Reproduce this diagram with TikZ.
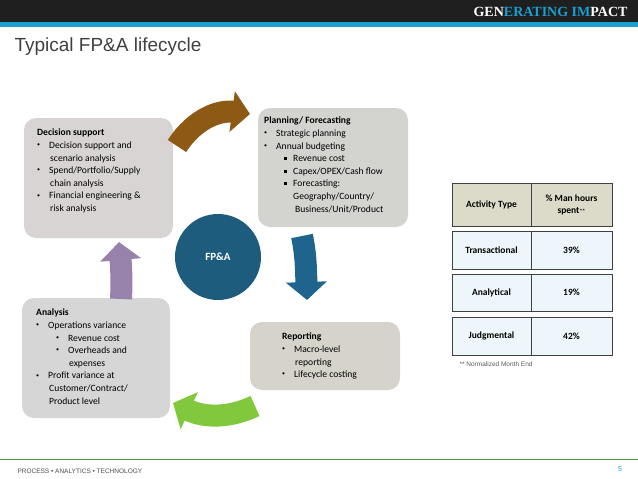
\documentclass[tikz,border=0pt]{standalone}
\usepackage{fontspec}
\setmainfont{Carlito}
\newfontfamily\arialf{Liberation Sans}
\newfontfamily\serifb{Liberation Serif}
\usetikzlibrary{arrows.meta}
\definecolor{hdrblue}{HTML}{1A9FD0}
\definecolor{fpa}{HTML}{1D5C7C}
\definecolor{boxA}{HTML}{D9D4D4}
\definecolor{boxB}{HTML}{D3D4D0}
\definecolor{boxC}{HTML}{D6D6D6}
\definecolor{boxD}{HTML}{D5D3CA}
\definecolor{hdrtab}{HTML}{DCDAC8}
\definecolor{celltab}{HTML}{EDF6FB}
\newcommand{\bu}{\raisebox{1.8pt}{\fontsize{6}{6}\selectfont\textbullet}}
\begin{document}
\begin{tikzpicture}[x=1pt,y=-1pt,
 box/.style={rounded corners=12pt},
 btxt/.style={anchor=north west,align=left,font=\fontsize{9.6}{12.6}\selectfont,inner sep=0},
 cell/.style={draw=black!75,line width=0.8pt,minimum height=38pt,font=\fontsize{9.5}{12}\selectfont\bfseries,align=center,inner sep=0},
 carrow/.style={line width=22pt,-{Triangle[width=40pt,length=18pt]}}]
\useasboundingbox (0,0) rectangle (638,479);
% header
\fill[black!88] (0,0) rectangle (638,22);
\fill[hdrblue] (0,22) rectangle (638,27);
\node[anchor=east,font=\serifb\bfseries\fontsize{14}{14}\selectfont,text=white] (brand) at (631,11.5) {GEN\textcolor{hdrblue}{ERATING IM}PACT};
\node[anchor=west,font=\arialf\fontsize{19}{19}\selectfont,text=black!75] (title) at (11,47) {Typical FP\&A lifecycle};
% boxes
\fill[boxA,box] (24,118) rectangle (173,238);
\fill[boxB,box] (258,108) rectangle (408,227);
\fill[boxC,box] (22,298) rectangle (170,418);
\fill[boxD,box] (250,322) rectangle (400,390);
\node[btxt] (ds) at (37,129) {\textbf{Decision support}\\
\bu\hspace{9pt}Decision support and\\ \hspace{13pt}scenario analysis\\
\bu\hspace{9pt}Spend/Portfolio/Supply\\ \hspace{13pt}chain analysis\\
\bu\hspace{9pt}Financial engineering \&\\ \hspace{13pt}risk analysis};
\node[btxt] (pf) at (264,117) {\textbf{Planning/ Forecasting}\\
\bu\hspace{9pt}Strategic planning\\
\bu\hspace{9pt}Annual budgeting\\
\hspace{20pt}\rule[1.5pt]{3pt}{3pt}\hspace{6pt}Revenue cost\\
\hspace{20pt}\rule[1.5pt]{3pt}{3pt}\hspace{6pt}Capex/OPEX/Cash flow\\
\hspace{20pt}\rule[1.5pt]{3pt}{3pt}\hspace{6pt}Forecasting:\\
\hspace{29pt}Geography/Country/\\
\hspace{31pt}Business/Unit/Product};
\node[btxt] (an) at (36,309) {\textbf{Analysis}\\
\bu\hspace{9pt}Operations variance\\
\hspace{20pt}\bu\hspace{9pt}Revenue cost\\
\hspace{20pt}\bu\hspace{9pt}Overheads and\\
\hspace{33pt}expenses\\
\bu\hspace{9pt}Profit variance at\\ \hspace{13pt}Customer/Contract/\\ \hspace{13pt}Product level};
\node[btxt] (rp) at (282,333) {\textbf{Reporting}\\
\bu\hspace{9pt}Macro-level\\ \hspace{13pt}reporting\\
\bu\hspace{9pt}Lifecycle costing};
% centre
\node[circle,fill=fpa,minimum size=86pt,text=white,font=\fontsize{11}{11}\selectfont\bfseries] (fpa) at (218,257) {FP\&A};
% arrows
\coordinate (b1) at (177,146); \coordinate (b2) at (250,114);
\draw[carrow,draw={rgb,255:red,140;green,90;blue,20}] (b1) .. controls (195,118) and (220,110) .. (b2);
\coordinate (u1) at (302,236); \coordinate (u2) at (307,300);
\draw[carrow,draw={rgb,255:red,30;green,100;blue,140}] (u1) .. controls (306,255) and (306,270) .. (u2);
\coordinate (g1) at (255,406); \coordinate (g2) at (173,403);
\draw[carrow,draw={rgb,255:red,130;green,200;blue,60}] (g1) .. controls (230,418) and (205,418) .. (g2);
\coordinate (p1) at (121,299); \coordinate (p2) at (119,242);
\draw[carrow,draw={rgb,255:red,150;green,130;blue,170}] (p1) .. controls (122,280) and (121,265) .. (p2);
% table
\node[cell,fill=hdrtab,minimum width=79pt,minimum height=43pt] (h1) at (491.5,204.5) {Activity Type};
\node[cell,fill=hdrtab,minimum width=81pt,minimum height=43pt] (h2) at (571.5,204.5) {\% Man hours\\spent{\fontsize{6}{6}\selectfont**}};
\node[cell,fill=celltab,minimum width=79pt] (t1) at (491.5,250) {Transactional};
\node[cell,fill=celltab,minimum width=81pt] (t2) at (571.5,250) {39\%};
\node[cell,fill=celltab,minimum width=79pt,minimum height=37pt] (a1) at (491.5,292.5) {Analytical};
\node[cell,fill=celltab,minimum width=81pt,minimum height=37pt] (a2) at (571.5,292.5) {19\%};
\node[cell,fill=celltab,minimum width=79pt] (j1) at (491.5,336) {Judgmental};
\node[cell,fill=celltab,minimum width=81pt] (j2) at (571.5,336) {42\%};
\node[anchor=west,font=\arialf\fontsize{6.5}{6.5}\selectfont,text=black!65] (fn) at (456,364) {** Normalized Month End};
% footer
\draw[green!40!black!70,line width=0.8pt] (0,459) -- (638,459);
\node[anchor=west,font=\arialf\fontsize{6.5}{6.5}\selectfont,text=black!70] (ft) at (14,471) {PROCESS \textbullet\ ANALYTICS \textbullet\ TECHNOLOGY};
\node[font=\arialf\fontsize{7}{7}\selectfont,text=hdrblue] (pg) at (620,469) {5};
\end{tikzpicture}
\end{document}
